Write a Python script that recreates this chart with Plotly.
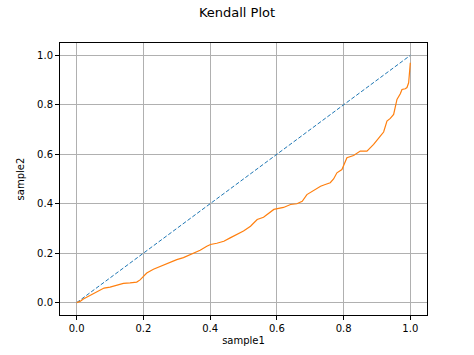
import plotly.graph_objects as go

# Diagonal reference line
diag_x = [0.0, 1.0]
diag_y = [0.0, 1.0]

kx = [0.0, 0.01, 0.02, 0.03, 0.045, 0.052, 0.065, 0.082, 0.1, 0.12, 0.14, 0.16, 0.18, 0.19, 0.2, 0.21,
      0.23, 0.251, 0.27, 0.3, 0.32, 0.351, 0.37, 0.39, 0.401, 0.42, 0.441, 0.46, 0.481, 0.5, 0.521,
      0.541, 0.56, 0.591, 0.62, 0.641, 0.66, 0.676, 0.69, 0.71, 0.731, 0.745, 0.76, 0.77, 0.78, 0.795,
      0.81, 0.83, 0.85, 0.87, 0.89, 0.91, 0.92, 0.93, 0.94, 0.95, 0.96, 0.97, 0.975, 0.985, 0.99,
      0.995, 0.998, 1.0]
ky = [0.0, 0.005, 0.015, 0.022, 0.032, 0.039, 0.045, 0.059, 0.063, 0.07, 0.078, 0.08, 0.083, 0.092, 0.106, 0.12,
      0.135, 0.147, 0.158, 0.174, 0.182, 0.201, 0.212, 0.228, 0.235, 0.24, 0.248, 0.262, 0.275, 0.29, 0.309,
      0.336, 0.345, 0.377, 0.385, 0.397, 0.4, 0.41, 0.437, 0.455, 0.471, 0.478, 0.485, 0.5, 0.525, 0.538,
      0.586, 0.595, 0.613, 0.613, 0.64, 0.673, 0.69, 0.734, 0.745, 0.761, 0.822, 0.845, 0.862, 0.865, 0.87,
      0.889, 0.93, 0.97]

x_ticks = [0.0, 0.2, 0.4, 0.6, 0.8, 1.0]
y_ticks = [0.0, 0.2, 0.4, 0.6, 0.8, 1.0]
tick_text = ["0.0", "0.2", "0.4", "0.6", "0.8", "1.0"]

fig = go.Figure()
fig.add_trace(go.Scatter(x=diag_x, y=diag_y, mode="lines",
                         line=dict(color="#1f77b4", width=1, dash="4px,2px"), showlegend=False))
fig.add_trace(go.Scatter(x=kx, y=ky, mode="lines",
                         line=dict(color="#ff7f0e", width=1.2), showlegend=False))

axis_common = dict(showline=True, linecolor="black", linewidth=1, mirror=True,
                   ticks="outside", ticklen=4, tickcolor="black", tickwidth=1,
                   showgrid=True, gridcolor="#b0b0b0", gridwidth=1, zeroline=False,
                   automargin=False,
                   tickfont=dict(size=10, color="black"))

fig.update_layout(
    width=474, height=355,
    paper_bgcolor="white", plot_bgcolor="white",
    font=dict(family="DejaVu Sans", color="black"),
    margin=dict(l=60, r=47, t=43, b=40),
    title=dict(text="Kendall Plot", x=0.5, xanchor="center", y=0.965, yanchor="middle",
               automargin=False, font=dict(size=13, color="black")),
    xaxis=dict(range=[-0.05, 1.05], tickvals=x_ticks, ticktext=tick_text,
               title=dict(text="sample1", font=dict(size=10), standoff=3), **axis_common),
    yaxis=dict(range=[-0.05, 1.05], tickvals=y_ticks, ticktext=tick_text,
               title=dict(text="sample2", font=dict(size=10), standoff=10), **axis_common),
)

fig.write_html("out.html", config={"displayModeBar": False},
               post_script="document.body.style.margin='0';")
